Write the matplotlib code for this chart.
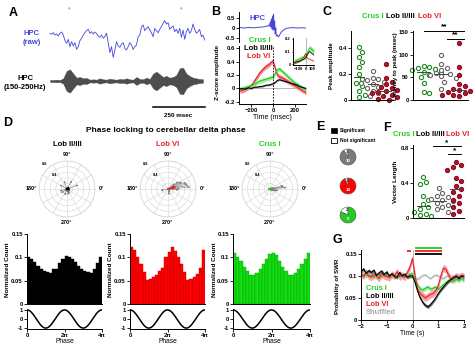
import numpy as np
import matplotlib
matplotlib.use("Agg")
import matplotlib.pyplot as plt
from matplotlib.patches import Rectangle

plt.rcParams['font.family'] = ['Liberation Sans', 'DejaVu Sans']
plt.rcParams['font.weight'] = 'bold'
plt.rcParams['axes.linewidth'] = 0.7

# ---------------- data ----------------
# A: hippocampal raw LFP (8 ms samples, uV) and ripple-band envelope (16 ms samples, uV)
hpc_raw = [50, 35, 60, 25, 40, 10, 50, 70, 25, -60, -100, -40, -150, -75, -140, -90, -190, -150,
           -60, -25, 25, 60, 90, 110, 50, 75, 40, 70, 50, 10, -10, 25, -25, 0, 50, -90, -240,
           -150, -310, -200, -75, -140, -160, -110, -90, -175, -200, -150, -90, -125, -190,
           -150, -125, 0, 25, 150, 175, 90, 125, 150, 100, 60, 0, 125, 90, 60, 110, 150, 200,
           240, 190, 210, 110, 140, 160, 75, 110, 50, 125, -10, 100, -40, 75, 125, 50, 90, 190,
           110, 50, 75, 110, 0, 25, -50]
ripple_env = [15, 15, 20, 15, 40, 150, 175, 110, 50, 60, 40, 45, 20, 25, 20, 40, 25, 20, 35, 25,
              20, 30, 25, 40, 25, 20, 60, 30, 25, 50, 30, 110, 140, 100, 60, 75, 50, 60, 90, 190,
              200, 110, 75, 50, 40, 30, 25]

# B: SWR-triggered z-scored amplitude (-300..300 ms, 20 ms steps)
hpc_t = [-300, -260, -220, -180, -140, -100, -80, -60, -50, -40, -30, -25, -20, -15, -10, -5, 0,
         5, 10, 15, 20, 25, 30, 40, 50, 60, 70, 80, 100, 120, 140, 180, 220, 260, 300]
hpc_z = [0.02, 0.0, 0.03, 0.01, 0.03, 0.05, 0.06, 0.1, 0.08, 0.15, 0.1, 0.3, 0.05, 0.45, -0.05,
         0.6, -0.1, 0.7, -0.1, 0.35, -0.3, 0.0, -0.4, -0.35, -0.45, -0.35, -0.25, -0.18, -0.08,
         -0.02, 0.0, 0.02, 0.0, 0.01, 0.0]
z_lob6 = [-0.04, -0.03, -0.02, 0.00, 0.02, 0.04, 0.08, 0.13, 0.18, 0.23, 0.27, 0.30, 0.33, 0.35,
          0.38, 0.41, 0.30, 0.20, 0.17, 0.16, 0.14, 0.12, 0.10, 0.08, 0.06, 0.04, 0.02, 0.00,
          -0.02, -0.04, -0.06]
z_crus = [0.00, 0.00, 0.01, 0.02, 0.03, 0.04, 0.05, 0.07, 0.09, 0.11, 0.12, 0.13, 0.14, 0.15,
          0.16, 0.17, 0.22, 0.28, 0.29, 0.26, 0.23, 0.20, 0.17, 0.14, 0.11, 0.08, 0.06, 0.04,
          0.02, 0.00, -0.01]
z_lob2 = [-0.01, 0.00, -0.01, 0.00, 0.01, 0.00, 0.01, 0.02, 0.02, 0.03, 0.03, 0.04, 0.05, 0.05,
          0.06, 0.07, 0.09, 0.12, 0.13, 0.12, 0.11, 0.10, 0.09, 0.08, 0.07, 0.06, 0.05, 0.03,
          0.02, 0.01, 0.00]
z_sem = {'lob6': 0.035, 'crus': 0.03, 'lob2': 0.012}
# inset (-160..120 ms)
in_lob6 = [0.0, 0.005, 0.01, 0.015, 0.02, 0.03, 0.045, 0.06, 0.085, 0.05, 0.04, 0.04, 0.03, 0.03, 0.02]
in_crus = [0.02, 0.025, 0.03, 0.035, 0.04, 0.045, 0.05, 0.055, 0.06, 0.08, 0.11, 0.13, 0.12, 0.11, 0.10]
in_lob2 = [0.01, 0.015, 0.02, 0.02, 0.025, 0.03, 0.035, 0.04, 0.05, 0.07, 0.09, 0.10, 0.09, 0.08, 0.07]

# C: peak amplitude and latency per unit
amp_crus = [0.41, 0.37, 0.33, 0.29, 0.25, 0.20, 0.16, 0.13, 0.11, 0.07, 0.04, 0.02]
amp_lob2 = [0.22, 0.17, 0.16, 0.15, 0.14, 0.13, 0.12, 0.10, 0.09, 0.07, 0.05, 0.03]
amp_lob6 = [0.28, 0.17, 0.14, 0.12, 0.10, 0.09, 0.08, 0.07, 0.06, 0.05, 0.04, 0.03, 0.02, 0.01, 0.00]
lat_crus = [76, 72, 70, 68, 65, 62, 60, 55, 50, 38, 18, 15]
lat_lob2 = [100, 80, 70, 65, 60, 58, 55, 52, 48, 40, 25]
lat_lob6 = [125, 72, 55, 35, 30, 25, 22, 20, 18, 16, 14, 12, 10, 8]

# D: phase-locking vectors (angle deg, length) and phase histograms (0..4pi, 24 bins)
ang_lob2 = [20, 60, 110, 150, 195, 215, 250, 285, 300, 330, 350, 240]
ang_lob6 = [5, 10, 15, 20, 25, 30, 35, 0, 355, 40, 190, 280, 300, 12, 8]
ang_crus = [5, 10, 15, 350, 345, 340, 20, 330, 200, 25, 0, 355]
mean_vec = {'lob2': (200, 0.05), 'lob6': (15, 0.25), 'crus': (0, 0.12)}
hist_lob2 = [0.100, 0.097, 0.090, 0.082, 0.075, 0.070, 0.068, 0.066, 0.075, 0.076, 0.088, 0.096,
             0.102, 0.100, 0.097, 0.090, 0.082, 0.075, 0.070, 0.068, 0.066, 0.075, 0.088, 0.100]
hist_lob6 = [0.123, 0.116, 0.100, 0.085, 0.068, 0.052, 0.053, 0.057, 0.062, 0.070, 0.078, 0.100,
             0.112, 0.123, 0.113, 0.100, 0.085, 0.068, 0.052, 0.053, 0.058, 0.065, 0.078, 0.115]
hist_crus = [0.110, 0.100, 0.092, 0.080, 0.070, 0.063, 0.062, 0.066, 0.074, 0.085, 0.097, 0.107,
             0.110, 0.104, 0.092, 0.080, 0.070, 0.063, 0.062, 0.066, 0.074, 0.085, 0.097, 0.110]

# E: significant / not significant units
sig_counts = {'lob2': (10, 1), 'lob6': (14, 1), 'crus': (9, 2)}

# F: vector length per unit
vec_crus = [0.47, 0.41, 0.39, 0.25, 0.21, 0.16, 0.12, 0.10, 0.07, 0.05, 0.03, 0.02]
vec_lob2 = [0.34, 0.28, 0.25, 0.24, 0.22, 0.20, 0.19, 0.17, 0.15, 0.12, 0.10, 0.07]
vec_lob6 = [0.64, 0.60, 0.58, 0.55, 0.45, 0.42, 0.36, 0.33, 0.30, 0.25, 0.21, 0.17, 0.12, 0.08, 0.05]

# G: probability of SWR around spikes (-2..2 s, 0.1 s steps)
p_shuf = [0.100, 0.102, 0.098, 0.101, 0.100, 0.097, 0.102, 0.099, 0.100, 0.101, 0.098, 0.100,
          0.102, 0.099, 0.101, 0.100, 0.098, 0.100, 0.101, 0.100,
          0.100, 0.096, 0.092, 0.097, 0.101, 0.103, 0.098, 0.094, 0.099, 0.102, 0.100, 0.096,
          0.094, 0.099, 0.101, 0.100, 0.099, 0.101, 0.100, 0.098, 0.100]
p_lob2 = [0.110, 0.116, 0.106, 0.112, 0.108, 0.113, 0.101, 0.107, 0.111, 0.103, 0.109, 0.100,
          0.105, 0.099, 0.097, 0.108, 0.100, 0.104, 0.097, 0.100,
          0.100, 0.085, 0.065, 0.050, 0.040, 0.033, 0.030, 0.035, 0.042, 0.050, 0.060, 0.068,
          0.075, 0.082, 0.088, 0.092, 0.097, 0.100, 0.094, 0.100, 0.099]
p_lob6 = [0.105, 0.100, 0.108, 0.100, 0.097, 0.104, 0.100, 0.094, 0.106, 0.100, 0.099, 0.096,
          0.104, 0.100, 0.110, 0.098, 0.102, 0.097, 0.108, 0.120,
          0.140, 0.100, 0.070, 0.060, 0.055, 0.050, 0.054, 0.058, 0.060, 0.066, 0.078, 0.100,
          0.118, 0.115, 0.102, 0.092, 0.095, 0.100, 0.097, 0.101, 0.098]
p_crus = [0.102, 0.098, 0.104, 0.100, 0.101, 0.097, 0.103, 0.100, 0.098, 0.104, 0.101, 0.099,
          0.100, 0.103, 0.098, 0.101, 0.100, 0.102, 0.099, 0.104,
          0.105, 0.090, 0.080, 0.071, 0.068, 0.072, 0.075, 0.070, 0.072, 0.075, 0.070, 0.075,
          0.080, 0.085, 0.090, 0.090, 0.088, 0.092, 0.090, 0.095, 0.090]
sig_span = (0.1, 1.15)

# ---------------- styling ----------------
GREEN = '#22cc22'
RED = '#e8202a'
DKRED = '#b0162e'
BLUE = '#4646dc'
GRAY = '#8c8c8c'
FS = 4.2

W, H = 474, 346
fig = plt.figure(figsize=(W / 100, H / 100), dpi=100)


def px_axes(x0, y0, x1, y1, **kw):
    return fig.add_axes([x0 / W, 1 - y1 / H, (x1 - x0) / W, (y1 - y0) / H], **kw)


def ftext(x, y, s, **kw):
    kw.setdefault('ha', 'center')
    kw.setdefault('va', 'center')
    kw.setdefault('fontsize', 5.5)
    fig.text(x / W, 1 - y / H, s, **kw)


def style(ax, fs=FS):
    ax.spines['top'].set_visible(False)
    ax.spines['right'].set_visible(False)
    ax.tick_params(labelsize=fs, length=2, width=0.6, pad=1)


def swarm(vals, px_y, px_x, d=5.6):
    vals = np.asarray(vals, float)
    xs = np.zeros(len(vals))
    placed = []
    for i in np.argsort(vals)[::-1]:
        y = vals[i] * px_y
        cands = [0.0]
        for k in range(1, 30):
            cands += [k * d * 0.5, -k * d * 0.5]
        for x in cands:
            if all((x - a) ** 2 + (y - b) ** 2 >= d * d for a, b in placed):
                break
        placed.append((x, y))
        xs[i] = x / px_x
    return xs


# panel letters
for lx, ly, letter in [(13, 13, 'A'), (216, 12, 'B'), (327, 12, 'C'), (8, 123, 'D'),
                       (320, 127, 'E'), (387, 128, 'F'), (337, 240, 'G')]:
    ftext(lx, ly, letter, fontsize=9)

# ---------------- A ----------------
axA = px_axes(48, 4, 208, 122)
axA.axis('off')
axA.set_xlim(-9.6, 760)
axA.set_ylim(-1280, 490)
t_raw = np.arange(len(hpc_raw)) * 8
axA.plot(t_raw, hpc_raw, color=BLUE, lw=0.6)
t_env = np.arange(len(ripple_env)) * 16
env = np.asarray(ripple_env)
axA.fill_between(t_env, -665 - env, -665 + env, color='#4d4d4d', lw=0.3)
axA.plot([495, 745], [-1055, -1055], color='k', lw=1.1, clip_on=False)
ftext(178, 116, '250 msec', fontsize=4.5)
ftext(69, 10, '*', color='#aaaaaa', fontsize=5)
ftext(181, 10, '*', color='#aaaaaa', fontsize=5)
ftext(32, 38, 'HPC\n(raw)', color=BLUE, fontsize=5.5, linespacing=1.4)
ftext(25, 83, 'HPC\n(150-250Hz)', fontsize=5.5, linespacing=1.4)

# ---------------- B ----------------
axB0 = px_axes(239, 12, 306, 42)
axB0.plot(hpc_t, hpc_z, color=BLUE, lw=0.7)
axB0.set_xlim(-309, 300)
axB0.set_ylim(-0.7, 0.8)
style(axB0)
axB0.spines['bottom'].set_visible(False)
axB0.set_xticks([])
axB0.set_yticks([-0.5, 0, 0.5])
axB0.set_yticklabels(['-0.5', '0', '0.5'])
ftext(258, 18, 'HPC', color=BLUE, fontsize=5.5)

axB = px_axes(239, 46, 306, 104)
tb = np.linspace(-300, 300, len(z_lob6))
axB.axhline(0, color='#aaaaaa', lw=0.6)
for key, vals, col, band in [('lob6', z_lob6, RED, '#f28a8a'), ('crus', z_crus, GREEN, '#90ee90'),
                             ('lob2', z_lob2, 'k', '#888888')]:
    v = np.asarray(vals)
    axB.fill_between(tb, v - z_sem[key], v + z_sem[key], color=band, lw=0, alpha=0.9)
    axB.plot(tb, v, color=col, lw=0.8)
axB.axvline(0, color='k', lw=0.6, ls=(0, (2, 1.5)))
axB.set_xlim(-309, 300)
axB.set_ylim(-0.23, 0.63)
style(axB)
axB.set_yticks([-0.2, 0, 0.2, 0.4, 0.6])
axB.set_yticklabels(['-0.2', '0', '0.2', '0.4', '0.6'])
axB.set_xticks([-200, 0, 200])
axB.set_xlabel('Time (msec)', fontsize=5, labelpad=0.5)
ftext(218, 73, 'Z-score amplitude', rotation=90, fontsize=4.6)
ftext(260, 41, 'Crus I', color=GREEN)
ftext(258, 49, 'Lob II/III', color='k')
ftext(259, 57, 'Lob VI', color=RED)

axI = px_axes(293, 38, 314, 65)
ti = np.linspace(-160, 120, len(in_lob6))
axI.axvline(0, color='#999999', lw=0.5)
axI.fill_between(ti, np.asarray(in_crus) - 0.02, np.asarray(in_crus) + 0.02, color='#90ee90', lw=0)
axI.plot(ti, in_crus, color=GREEN, lw=0.6)
axI.plot(ti, in_lob6, color=RED, lw=0.6)
axI.plot(ti, in_lob2, color='k', lw=0.6)
axI.set_xlim(-180, 120)
axI.set_ylim(-0.008, 0.208)
style(axI, fs=3)
axI.tick_params(length=1, pad=0.5)
axI.set_xticks([-100, 0, 100])
axI.set_yticks([0, 0.1, 0.2])
axI.set_yticklabels(['0', '0.1', '0.2'])

# ---------------- C ----------------
ftext(373, 17, 'Crus I', color=GREEN)
ftext(400, 17, 'Lob II/III', color='k')
ftext(430, 17, 'Lob VI', color=RED)

groups = [('crus', GREEN, 'white', '#1f8a1f'), ('lob2', GRAY, 'white', '#666666'),
          ('lob6', DKRED, DKRED, '#8a0f22')]


def dot_panel(ax, series, px_y, px_x):
    for gi, (vals, (name, col, face, edge)) in enumerate(zip(series, groups)):
        xs = gi + swarm(vals, px_y, px_x)
        ax.plot(xs, vals, 'o', ms=3.0, mfc=face if name != 'lob6' else col, mec=edge, mew=0.8,
                clip_on=False)
        m = np.median(vals)
        ax.plot([gi - 0.38, gi + 0.38], [m, m], color='#444444', lw=0.7)
    ax.set_xlim(-0.6, 2.5)
    ax.set_xticks([])
    style(ax)


axC1 = px_axes(351, 31, 393, 100)
dot_panel(axC1, [amp_crus, amp_lob2, amp_lob6], 130, 13.5)
axC1.set_ylim(0, 0.53)
axC1.set_yticks([0, 0.2, 0.4])
axC1.set_yticklabels(['0', '0.2', '0.4'])
ftext(332, 66, 'Peak amplitude', rotation=90, fontsize=4.6)

axC2 = px_axes(413, 31, 468, 100)
dot_panel(axC2, [lat_crus, lat_lob2, lat_lob6], 0.45, 17.5)
axC2.set_ylim(0, 152)
axC2.set_yticks([0, 50, 100, 150])
ftext(396, 66, 'Latency to peak (msec)', rotation=90, fontsize=4.4)
axC2.plot([0, 2.3], [152, 152], color='k', lw=0.7, clip_on=False)
axC2.plot([1.3, 2.3], [134, 134], color='k', lw=0.7, clip_on=False)
axC2.text(1.15, 153, '**', ha='center', va='bottom', fontsize=6)
axC2.text(1.8, 135, '**', ha='center', va='bottom', fontsize=6)

# ---------------- D ----------------
ftext(166, 131, 'Phase locking to cerebellar delta phase', fontsize=6)
polar_specs = [(67, 189, 'Lob II/III', 'k', ang_lob2, vec_lob2, 'lob2', hist_lob2, 27, 102, '#000000', '#000000'),
               (168, 189, 'Lob VI', RED, ang_lob6, vec_lob6, 'lob6', hist_lob6, 130, 205, '#ff0000', '#b80000'),
               (270, 189, 'Crus I', GREEN, ang_crus, vec_crus, 'crus', hist_crus, 233, 310, '#11dd11', '#0a9a0a')]
R = 28
for cx, cy, title, tcol, angs, lens, key, hist, hx0, hx1, bcol, ecol in polar_specs:
    ftext(cx, 145, title, color=tcol, fontsize=5.5)
    axp = px_axes(cx - R, cy - R, cx + R, cy + R, projection='polar')
    axp.set_ylim(0, 0.8)
    axp.set_yticks([0.16, 0.32, 0.48, 0.64, 0.8])
    axp.set_yticklabels([])
    axp.set_xticks(np.deg2rad(np.arange(0, 360, 30)))
    axp.set_xticklabels([])
    axp.grid(color='#d4d4d4', lw=0.4)
    axp.spines['polar'].set_color('#d4d4d4')
    axp.spines['polar'].set_linewidth(0.5)
    for a, r in zip(angs, lens):
        axp.annotate('', xy=(np.deg2rad(a), r), xytext=(0, 0),
                     arrowprops=dict(arrowstyle='-|>', lw=0.4, color='#7a7a7a',
                                     mutation_scale=2.5, shrinkA=0, shrinkB=0))
    ma, mr = mean_vec[key]
    axp.annotate('', xy=(np.deg2rad(ma), mr), xytext=(0, 0),
                 arrowprops=dict(arrowstyle='-|>', lw=1.2, color=tcol if key != 'lob2' else 'k',
                                 mutation_scale=3, shrinkA=0, shrinkB=0))
    if key == 'lob2':
        axp.plot([0], [0], 'o', color='k', ms=2)
    ftext(cx, cy - R - 6, '90°', fontsize=4)
    ftext(cx, cy + R + 6, '270°', fontsize=4)
    ftext(cx - R - 8, cy, '180°', fontsize=4)
    ftext(cx + R + 6, cy, '0°', fontsize=4)
    ftext(cx - 0.43 * R, cy - 0.5 * R, '0.4', fontsize=2.8)
    ftext(cx - 0.8 * R, cy - 0.88 * R, '0.8', fontsize=2.8)

    axh = px_axes(hx0, 234, hx1, 304)
    edges = np.linspace(0, 4 * np.pi, len(hist) + 1)
    axh.bar(edges[:-1], hist, width=edges[1] - edges[0], align='edge', color=bcol,
            edgecolor=ecol, lw=0.3)
    axh.set_xlim(0, 4 * np.pi)
    axh.set_ylim(0, 0.15)
    style(axh)
    axh.set_xticks([])
    axh.set_yticks([0, 0.05, 0.1, 0.15])
    axh.set_yticklabels(['0', '0.05', '0.1', '0.15'])
    ftext(hx0 - 19, 270, 'Normalized Count', rotation=90, fontsize=4.6)

    axw = px_axes(hx0, 309, hx1, 329)
    ph = np.linspace(0, 4 * np.pi, 200)
    axw.plot(ph, np.cos(ph), color='k', lw=1.1)
    axw.set_xlim(0, 4 * np.pi)
    axw.set_ylim(-1.1, 1.1)
    style(axw)
    axw.set_xticks([0, 2 * np.pi, 4 * np.pi])
    axw.set_xticklabels(['0', '2π', '4π'])
    axw.set_yticks([-1, 0, 1])
    axw.set_yticklabels(['-1', '0', '1'])
    axw.set_xlabel('Phase', fontsize=4.8, labelpad=0)

# ---------------- E ----------------
fig.add_artist(Rectangle((331 / W, 1 - 133 / H), 6 / W, 5 / H, facecolor='k', edgecolor='k', lw=0.5))
fig.add_artist(Rectangle((331 / W, 1 - 143 / H), 6 / W, 5 / H, facecolor='white', edgecolor='k', lw=0.6))
ftext(340, 130.5, 'Significant', ha='left', fontsize=3.6)
ftext(340, 140.5, 'Not significant', ha='left', fontsize=3.6)
pie_specs = [(348, 157, 'lob2', '#7a7a7a'), (348, 186, 'lob6', '#ff0000'), (348, 215, 'crus', '#22cc22')]
PR = 10
for cx, cy, key, col in pie_specs:
    axpie = px_axes(cx - PR, cy - PR, cx + PR, cy + PR)
    s, ns = sig_counts[key]
    axpie.pie([ns, s], colors=['white', col], startangle=90,
              wedgeprops=dict(edgecolor='#555555', linewidth=0.4))
    axpie.set_aspect('equal')
    axpie.text(-0.15, 0.62, str(ns), ha='center', va='center', fontsize=3.2, color='#333333')
    axpie.text(0.05, -0.5, str(s), ha='center', va='center', fontsize=3.2, color='white')

# ---------------- F ----------------
ftext(404, 134, 'Crus I', color=GREEN)
ftext(430, 134, 'Lob II/III', color='k')
ftext(458, 134, 'Lob VI', color=RED)
axF = px_axes(413, 145, 464, 218)
dot_panel(axF, [vec_crus, vec_lob2, vec_lob6], 87.5, 16.5)
axF.set_ylim(0, 0.83)
axF.set_yticks([0, 0.4, 0.8])
axF.set_yticklabels(['0', '0.4', '0.8'])
ftext(395, 182, 'Vector Length', rotation=90, fontsize=4.6)
axF.plot([0.6, 2.3], [0.82, 0.82], color='k', lw=0.7, clip_on=False)
axF.plot([1.5, 2.3], [0.73, 0.73], color='k', lw=0.7, clip_on=False)
axF.text(1.45, 0.815, '*', ha='center', va='bottom', fontsize=6)
axF.text(1.9, 0.725, '*', ha='center', va='bottom', fontsize=6)

# ---------------- G ----------------
axG = px_axes(361, 250, 464, 320)
tg = np.linspace(-2, 2, len(p_lob2))
axG.axvline(0, color='#aaaaaa', lw=0.6)
for vals, col, band, sem in [(p_shuf, '#b5b5b5', '#dddddd', 0.003), (p_crus, GREEN, '#9ef09e', 0.005),
                             (p_lob6, RED, '#f7a0a0', 0.008), (p_lob2, 'k', '#777777', 0.004)]:
    v = np.asarray(vals)
    axG.fill_between(tg, v - sem, v + sem, color=band, lw=0)
    axG.plot(tg, v, color=col, lw=0.8)
axG.set_xlim(-2, 2)
axG.set_ylim(0, 0.159)
style(axG)
axG.set_xticks([-2, -1, 0, 1, 2])
axG.set_yticks([0, 0.05, 0.1, 0.15])
axG.set_yticklabels(['0', '0.05', '0.1', '0.15'])
axG.set_xlabel('Time (s)', fontsize=4.8, labelpad=0.5)
ftext(338, 286, 'Probability of SWR', rotation=90, fontsize=4.4)
for yy, col in [(0.163, GREEN), (0.157, RED), (0.151, 'k')]:
    axG.plot(sig_span, [yy, yy], color=col, lw=1.3, clip_on=False, solid_capstyle='butt')
axG.plot([-0.2, -0.05], [0.157, 0.157], color=RED, lw=1.3, clip_on=False, solid_capstyle='butt')
ftext(366, 289, 'Crus I', color=GREEN, ha='left', fontsize=5.3)
ftext(366, 297, 'Lob II/III', color='k', ha='left', fontsize=5.3)
ftext(366, 305, 'Lob VI', color=RED, ha='left', fontsize=5.3)
ftext(366, 313, 'Shuffled', color='#aaaaaa', ha='left', fontsize=5.3)

fig.savefig('out.png', dpi=100)
